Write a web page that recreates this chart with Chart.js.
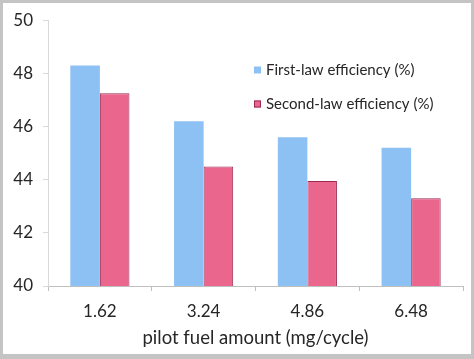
<!DOCTYPE html>
<html><head><meta charset="utf-8">
<script src="https://cdn.jsdelivr.net/npm/chart.js@4"></script>
<style>html,body{margin:0;padding:0;background:#fff}#wrap{width:474px;height:359px;position:relative}</style>
</head><body><div id="wrap"><canvas id="c" width="474" height="359"></canvas></div>
<script>
const categories = ['1.62', '3.24', '4.86', '6.48'];
const firstLaw = [48.3, 46.2, 45.6, 45.2];
const secondLaw = [47.25, 44.5, 43.95, 43.3];
const seriesLabels = ['First-law efficiency (%)', 'Second-law efficiency (%)'];
const yTicks = [40, 42, 44, 46, 48, 50];
const xTitle = 'pilot fuel amount (mg/cycle)';

const FONT = 'Lato, "Open Sans", sans-serif';
const TEXT = '#262626';

const bgPlugin = {
  id: 'bg',
  beforeDraw(chart) {
    const ctx = chart.ctx;
    ctx.save();
    ctx.fillStyle = '#c4c4c4';
    ctx.fillRect(0, 0, chart.width, chart.height);
    ctx.fillStyle = '#ffffff';
    ctx.fillRect(3, 3, chart.width - 6, chart.height - 8);
    ctx.restore();
  }
};

const legendPlugin = {
  id: 'innerLegend',
  afterDraw(chart) {
    const ctx = chart.ctx;
    ctx.save();
    ctx.font = '15px ' + FONT;
    ctx.textBaseline = 'middle';
    const rows = [{y: 70}, {y: 104}];
    chart.data.datasets.forEach((ds, i) => {
      const y = rows[i].y;
      ctx.fillStyle = ds.backgroundColor;
      ctx.fillRect(254, y - 3.5, 7, 7);
      if (ds.borderWidth) {
        ctx.strokeStyle = ds.borderColor;
        ctx.lineWidth = 1;
        ctx.strokeRect(254.5, y - 3, 6, 6);
      }
      ctx.fillStyle = TEXT;
      ctx.fillText(ds.label, 266, y);
    });
    ctx.restore();
  }
};

new Chart(document.getElementById('c'), {
  type: 'bar',
  data: {
    labels: categories,
    datasets: [
      { label: seriesLabels[0], data: firstLaw, backgroundColor: '#8ec1f3', borderColor: '#8ec1f3', borderWidth: 0,
        categoryPercentage: 0.57, barPercentage: 1.0 },
      { label: seriesLabels[1], data: secondLaw, backgroundColor: '#ea668c', borderColor: '#9a2a52', borderWidth: 1,
        categoryPercentage: 0.57, barPercentage: 1.0 }
    ]
  },
  options: {
    responsive: false,
    animation: false,
    layout: { padding: { top: 19, right: 11, left: 0, bottom: 0 } },
    plugins: { legend: { display: false }, tooltip: { enabled: false } },
    scales: {
      x: {
        offset: true,
        grid: { display: true, drawOnChartArea: false, offset: true, color: '#c0c0c0', tickLength: 5 },
        border: { display: true, color: '#c0c0c0' },
        ticks: { color: TEXT, font: { family: FONT, size: 17 }, padding: 10, maxRotation: 0 },
        title: { display: true, text: xTitle, color: TEXT, font: { family: FONT, size: 18.5 }, padding: { top: 0, bottom: 10 } },
        afterFit(scale) { scale.height = 359 - 286; }
      },
      y: {
        min: 40, max: 50,
        afterBuildTicks(scale) { scale.ticks = yTicks.map(v => ({ value: v })); },
        grid: { display: true, drawOnChartArea: false, color: '#d9d9d9', tickLength: 5 },
        border: { display: true, color: '#d9d9d9' },
        ticks: { color: TEXT, font: { family: FONT, size: 17 }, padding: 10 },
        afterFit(scale) { scale.width = 48; }
      }
    }
  },
  plugins: [bgPlugin, legendPlugin]
});
</script></body></html>
